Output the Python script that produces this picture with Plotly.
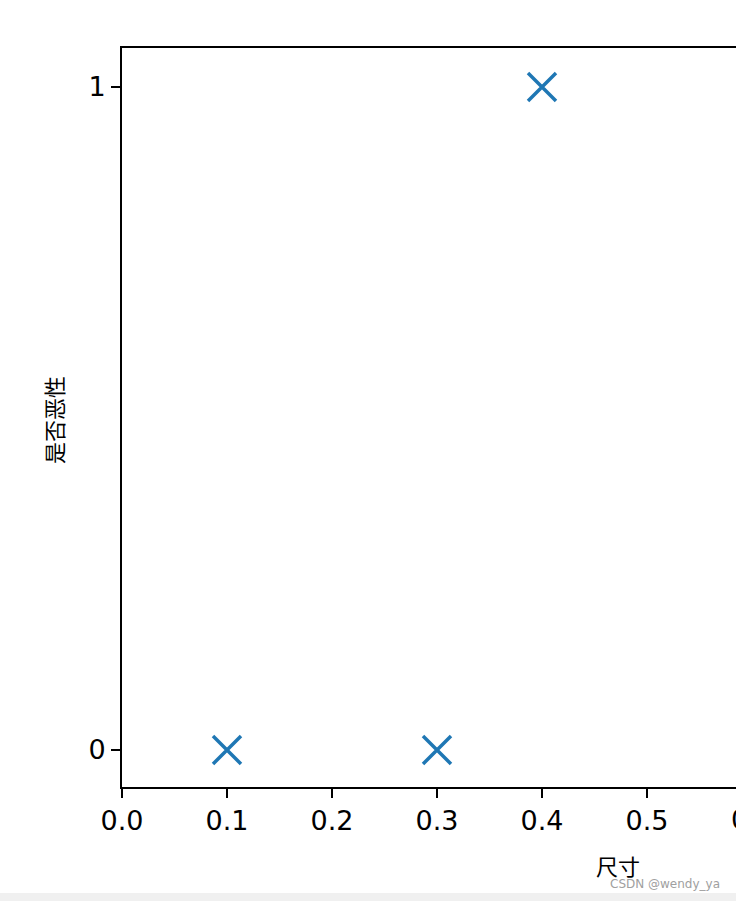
import plotly.graph_objects as go

# data
x_vals = [0.1, 0.3, 0.4]
y_vals = [0, 0, 1]
x_ticks = [0.0, 0.1, 0.2, 0.3, 0.4, 0.5]
y_ticks = [0, 1]
x_label = "尺寸"
y_label = "是否恶性"

W, H = 736, 901
L, T, B = 122, 48, 787
plot_w = W - L
plot_h = B - T


def px_x(p):
    return (p - L) / plot_w


def px_y(p):
    return (B - p) / plot_h


fig = go.Figure()
fig.add_trace(go.Scatter(
    x=x_vals, y=y_vals, mode="markers",
    marker=dict(symbol="x-thin", size=28, color="#1f77b4",
                line=dict(width=3.5, color="#1f77b4")),
    cliponaxis=False,
))

tick_font = dict(family="DejaVu Sans", size=27, color="black")

fig.update_layout(
    width=W, height=H,
    margin=dict(l=L, r=0, t=T, b=H - B),
    paper_bgcolor="white", plot_bgcolor="white",
    showlegend=False,
    xaxis=dict(
        range=[0, plot_w / 1050],
        tickvals=x_ticks, tickformat=".1f",
        ticks="outside", ticklen=9, tickwidth=2, tickcolor="black",
        showline=True, linewidth=2, linecolor="black", mirror=True,
        showgrid=False, zeroline=False, tickfont=tick_font,
    ),
    yaxis=dict(
        range=[-(787 - 750) / 663, (750 - 48) / 663],
        tickvals=y_ticks,
        ticks="outside", ticklen=9, tickwidth=2, tickcolor="black",
        showline=True, linewidth=2, linecolor="black",
        showgrid=False, zeroline=False, tickfont=tick_font,
    ),
)

# cropped-off "0.6" tick label at the right edge
fig.add_annotation(text="0.6", xref="paper", yref="paper",
                   x=px_x(752), y=px_y(820), showarrow=False,
                   font=tick_font, xanchor="center", yanchor="middle")

# axis titles
fig.add_annotation(text=x_label, xref="paper", yref="paper",
                   x=px_x(618), y=px_y(865), showarrow=False,
                   xanchor="center", yanchor="middle",
                   font=dict(family="Noto Sans CJK SC", size=22, color="black"))
fig.add_annotation(text=y_label, xref="paper", yref="paper",
                   x=px_x(53), y=px_y(420), showarrow=False, textangle=-90,
                   xanchor="center", yanchor="middle",
                   font=dict(family="Noto Sans CJK SC", size=22, color="black"))

# bottom grey strip and watermark
fig.add_shape(type="rect", xref="paper", yref="paper",
              x0=px_x(0), x1=px_x(W), y0=px_y(893), y1=px_y(H),
              fillcolor="#f0f0f0", line=dict(width=0), layer="below")
fig.add_annotation(text="CSDN @wendy_ya", xref="paper", yref="paper",
                   x=px_x(722), y=px_y(884), xanchor="right", yanchor="middle",
                   showarrow=False,
                   font=dict(family="DejaVu Sans", size=12, color="#a0a0a0"))

# drop the page margin so the figure sits at the window's top-left corner
fig.write_html("out.html",
               config={"displayModeBar": False},
               post_script="document.body.style.margin='0';"
                           "document.body.style.overflow='hidden';")
